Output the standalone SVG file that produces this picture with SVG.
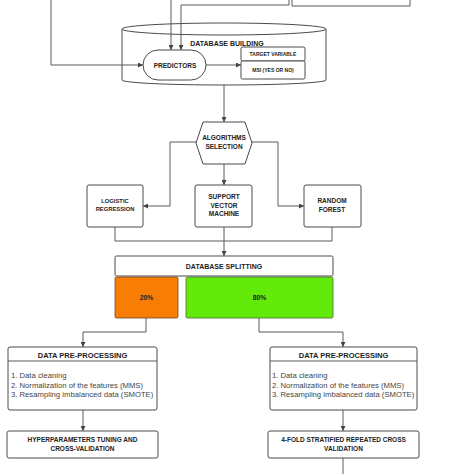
<svg xmlns="http://www.w3.org/2000/svg" width="474" height="474" viewBox="0 0 474 474">
<style>
.box{fill:#fff;stroke:#4a4a4a;stroke-width:1}
.ln{fill:none;stroke:#5a5a5a;stroke-width:1}
.t{font-family:"Liberation Sans",Arial,sans-serif;font-weight:bold;fill:#222;text-anchor:middle}
.li{font-family:"Liberation Sans",Arial,sans-serif;font-size:7.7px;fill:#444}
</style>
<defs>
<marker id="ah" markerWidth="5" markerHeight="5" refX="5" refY="2.5" orient="auto" markerUnits="userSpaceOnUse">
<path d="M0,0 L5,2.5 L0,5 z" fill="#444"/>
</marker>
</defs>
<rect width="474" height="474" fill="#fff"/>

<g id="database-building">
<path class="box" d="M122,29 L122,80 A102,5 0 0 0 326,80 L326,29"/>
<ellipse class="box" cx="224" cy="29" rx="102" ry="6"/>
<text class="t" x="227" y="45.5" font-size="7">DATABASE BUILDING</text>
</g>
<g id="predictors">
<rect class="box" x="143" y="50" width="63" height="30" rx="15"/>
<text class="t" x="175" y="67.5" font-size="6.5">PREDICTORS</text>
</g>
<g id="target-variable">
<rect class="box" x="241" y="47" width="64" height="14" rx="1.5"/>
<text class="t" x="273" y="56" font-size="5">TARGET VARIABLE</text>
</g>
<g id="msi">
<rect class="box" x="241" y="61" width="64" height="18" rx="1.5"/>
<text class="t" x="273" y="72" font-size="5">MSI (YES OR NO)</text>
</g>
<g id="algorithms-selection">
<polygon class="box" points="203,122 245,122 252,143 245,164 203,164 196,143"/>
<text class="t" x="224" y="140" font-size="6.5">ALGORITHMS</text>
<text class="t" x="224" y="149" font-size="6.5">SELECTION</text>
</g>
<g id="logistic-regression">
<rect class="box" x="87" y="185" width="56" height="42" rx="2"/>
<text class="t" x="115" y="203" font-size="5.8">LOGISTIC</text>
<text class="t" x="115" y="211" font-size="5.8">REGRESSION</text>
</g>
<g id="svm">
<rect class="box" x="195" y="185" width="57" height="42" rx="2"/>
<text class="t" x="224" y="199" font-size="6.5">SUPPORT</text>
<text class="t" x="224" y="207.5" font-size="6.5">VECTOR</text>
<text class="t" x="224" y="216" font-size="6.5">MACHINE</text>
</g>
<g id="random-forest">
<rect class="box" x="304" y="185" width="57" height="42" rx="2"/>
<text class="t" x="332" y="203" font-size="6.5">RANDOM</text>
<text class="t" x="332" y="211.5" font-size="6.5">FOREST</text>
</g>
<g id="database-splitting">
<rect class="box" x="115" y="256" width="218" height="20" rx="1.5"/>
<text class="t" x="224" y="268.5" font-size="7">DATABASE SPLITTING</text>
</g>
<g id="split-20">
<rect x="115" y="277" width="63" height="41" rx="1.5" fill="#f77d05" stroke="#6a4a2a" stroke-width="0.8"/>
<text class="t" x="146.5" y="300" font-size="6.8">20%</text>
</g>
<g id="split-80">
<rect x="186" y="277" width="147" height="41" rx="1.5" fill="#64ea0a" stroke="#4a6a3a" stroke-width="0.8"/>
<text class="t" x="259.5" y="300" font-size="6.8">80%</text>
</g>
<g id="preprocessing-left">
<rect class="box" x="8" y="347" width="149" height="63" rx="2"/>
<line class="ln" x1="8" y1="361" x2="157" y2="361" stroke="#4a4a4a"/>
<text class="t" x="82.5" y="357.5" font-size="7.5">DATA PRE-PROCESSING</text>
<text class="li" x="11" y="378">1. Data cleaning</text>
<text class="li" x="11" y="387.5">2. Normalization of the features (MMS)</text>
<text class="li" x="11" y="397">3. Resampling imbalanced data (SMOTE)</text>
</g>
<g id="preprocessing-right">
<rect class="box" x="270" y="347" width="147" height="63" rx="2"/>
<line class="ln" x1="270" y1="361" x2="417" y2="361" stroke="#4a4a4a"/>
<text class="t" x="343.5" y="357.5" font-size="7.5">DATA PRE-PROCESSING</text>
<text class="li" x="272" y="378">1. Data cleaning</text>
<text class="li" x="272" y="387.5">2. Normalization of the features (MMS)</text>
<text class="li" x="272" y="397">3. Resampling imbalanced data (SMOTE)</text>
</g>
<g id="hyperparameters">
<rect class="box" x="7" y="431" width="151" height="27" rx="2"/>
<text class="t" x="82.5" y="441.5" font-size="6.5">HYPERPARAMETERS TUNING AND</text>
<text class="t" x="82.5" y="450.5" font-size="6.5">CROSS-VALIDATION</text>
</g>
<g id="fourfold">
<rect class="box" x="268" y="431" width="151" height="27" rx="2"/>
<text class="t" x="343.5" y="441.5" font-size="6.5">4-FOLD STRATIFIED REPEATED CROSS</text>
<text class="t" x="343.5" y="450.5" font-size="6.5">VALIDATION</text>
</g>

<g id="connectors">
<path class="ln" d="M51,0 V65 H143" marker-end="url(#ah)"/>
<path class="ln" d="M171,0 V50" marker-end="url(#ah)"/>
<path class="ln" d="M289,0 V5 H181 V50" marker-end="url(#ah)"/>
<path class="ln" d="M292,0 V6 H410 V0"/>
<path class="ln" d="M206,65 H241" marker-end="url(#ah)"/>
<path class="ln" d="M224,85 V122" marker-end="url(#ah)"/>
<path class="ln" d="M197,142 H170 V206 H143" marker-end="url(#ah)"/>
<path class="ln" d="M251,142 H278 V206 H304" marker-end="url(#ah)"/>
<path class="ln" d="M224,164 V185" marker-end="url(#ah)"/>
<path class="ln" d="M115,227 V241 H332 V227"/>
<path class="ln" d="M224,227 V256" marker-end="url(#ah)"/>
<path class="ln" d="M146,318 V332 H83 V347" marker-end="url(#ah)"/>
<path class="ln" d="M259,318 V332 H343 V347" marker-end="url(#ah)"/>
<path class="ln" d="M83,410 V431" marker-end="url(#ah)"/>
<path class="ln" d="M343,410 V431" marker-end="url(#ah)"/>
<path class="ln" d="M343,458 V474"/>
</g>
</svg>
